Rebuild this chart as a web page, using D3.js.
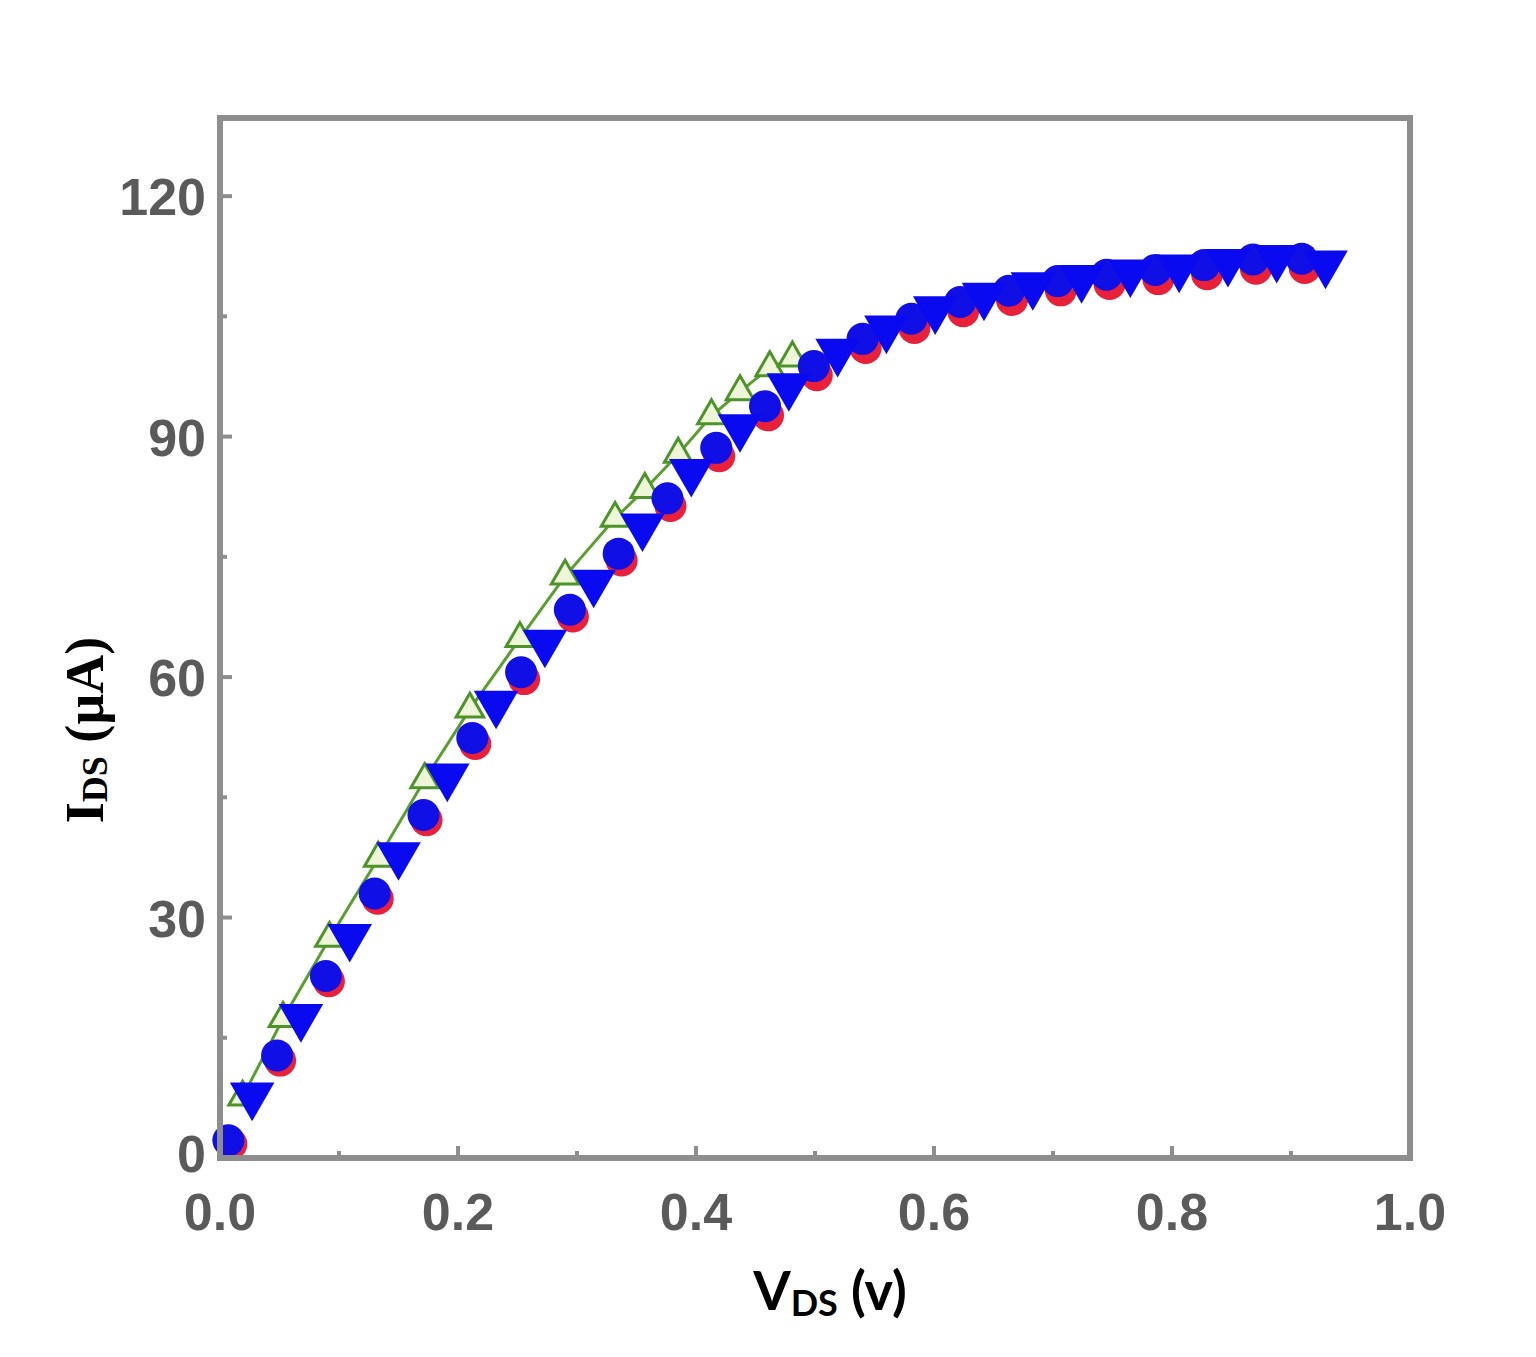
<!DOCTYPE html>
<html><head><meta charset="utf-8">
<script src="https://cdn.jsdelivr.net/npm/d3@7/dist/d3.min.js"></script>
<style>body{margin:0;background:#fff}svg{display:block}</style>
</head><body>
<svg id="c" width="1536" height="1357"></svg>
<script>
// Data
const xTicks = [0.0, 0.2, 0.4, 0.6, 0.8, 1.0];
const xTickLabels = ["0.0", "0.2", "0.4", "0.6", "0.8", "1.0"];
const yTicks = [0, 30, 60, 90, 120];
const yTickLabels = ["0", "30", "60", "90", "120"];

// circle markers (red under blue)
const vCirc = [0.007,0.048,0.089,0.130,0.171,0.212,0.253,0.294,0.335,0.376,0.417,0.458,0.499,0.540,0.581,0.622,0.663,0.704,0.745,0.786,0.827,0.868,0.909];
const iRed  = [2.0,12.4,22.3,32.6,42.4,51.9,60.0,67.8,74.8,81.6,87.8,92.9,97.9,101.3,103.8,105.9,107.3,108.5,109.3,109.9,110.5,111.2,111.3];
const iBlueCirc = [2.2,12.8,22.7,33.0,42.8,52.4,60.6,68.4,75.4,82.3,88.6,93.8,98.8,102.2,104.7,106.8,108.2,109.4,110.2,110.8,111.4,112.1,112.2];
// triangle markers (blue)
const vTri = [0.027,0.068,0.109,0.150,0.191,0.232,0.273,0.314,0.355,0.396,0.437,0.478,0.519,0.560,0.601,0.642,0.683,0.724,0.765,0.806,0.847,0.888,0.929];
const iBlueTri = [7.8,17.6,27.6,37.8,47.6,56.7,64.3,71.8,78.8,85.6,91.2,96.3,100.6,103.5,105.9,107.6,108.9,109.8,110.5,111.1,111.8,112.3,111.6];
// green open triangles
const vGreen = [0.019,0.053,0.092,0.133,0.172,0.210,0.252,0.290,0.332,0.357,0.385,0.413,0.437,0.462,0.481];
const iGreen = [7.6,17.4,27.4,37.4,47.2,56.0,64.8,72.6,79.8,83.4,87.8,92.6,95.6,98.6,99.8];

const svg = d3.select("#c");
const L = 220, R = 1410, T = 118, B = 1158;
const x = d3.scaleLinear().domain([0, 1]).range([L, R]);
const y = d3.scaleLinear().domain([0, 129.75]).range([B, T]);

const frameColor = "#8e8e8e";

const g = svg.append("g");

const greenPts = vGreen.map((v,i)=>[v,iGreen[i]]);
g.append("path").datum(greenPts)
  .attr("d", d3.line().x(d=>x(d[0])).y(d=>y(d[1])))
  .attr("fill","none").attr("stroke","#5a9e30").attr("stroke-width",3);
const triUp = d3.symbol().type(d3.symbolTriangle).size(330);
g.selectAll(".gr").data(greenPts).join("path")
  .attr("transform", d=>`translate(${x(d[0])},${y(d[1])})`)
  .attr("d", triUp).attr("fill","#eef5d8").attr("stroke","#4c9428").attr("stroke-width",3);

g.selectAll(".rc").data(vCirc.map((v,i)=>[v,iRed[i]])).join("circle")
  .attr("cx", d=>x(d[0]) + 3).attr("cy", d=>y(d[1]) + 2).attr("r", 16)
  .attr("fill","#e8203a");
g.selectAll(".bc").data(vCirc.map((v,i)=>[v,iBlueCirc[i]])).join("circle")
  .attr("cx", d=>x(d[0])).attr("cy", d=>y(d[1])).attr("r", 16)
  .attr("fill","#1010e6");
const triDown = d3.symbol().type(d3.symbolTriangle).size(860);
g.selectAll(".bt").data(vTri.map((v,i)=>[v,iBlueTri[i]])).join("path")
  .attr("transform", d=>`translate(${x(d[0])},${y(d[1])}) rotate(180)`)
  .attr("d", triDown).attr("fill","#0a0af0");

// frame
svg.append("rect").attr("x", L).attr("y", T).attr("width", R - L).attr("height", B - T)
  .attr("fill","none").attr("stroke", frameColor).attr("stroke-width", 6);

// ticks (inward)
const xMinor = [0.1, 0.3, 0.5, 0.7, 0.9];
svg.selectAll(".xt").data(xTicks).join("line")
  .attr("x1", d=>x(d)).attr("x2", d=>x(d)).attr("y1", B).attr("y2", B - 12)
  .attr("stroke", frameColor).attr("stroke-width", 4);
svg.selectAll(".xm").data(xMinor).join("line")
  .attr("x1", d=>x(d)).attr("x2", d=>x(d)).attr("y1", B).attr("y2", B - 7)
  .attr("stroke", frameColor).attr("stroke-width", 4);
const yMinor = [15, 45, 75, 105];
svg.selectAll(".yt").data(yTicks).join("line")
  .attr("x1", L).attr("x2", L + 12).attr("y1", d=>y(d)).attr("y2", d=>y(d))
  .attr("stroke", frameColor).attr("stroke-width", 4);
svg.selectAll(".ym").data(yMinor).join("line")
  .attr("x1", L).attr("x2", L + 7).attr("y1", d=>y(d)).attr("y2", d=>y(d))
  .attr("stroke", frameColor).attr("stroke-width", 4);

// tick labels
svg.selectAll(".xl").data(xTicks).join("text")
  .attr("x", d=>x(d)).attr("y", 1230)
  .attr("text-anchor","middle")
  .attr("font-family","'Liberation Sans', Arial, sans-serif").attr("font-weight","bold")
  .attr("font-size", 52).attr("fill","#5a5a5a")
  .text((d,i)=>xTickLabels[i]);
svg.selectAll(".yl").data(yTicks).join("text")
  .attr("x", 206).attr("y", d=>y(d) + (d === 0 ? 14 : 19))
  .attr("text-anchor","end")
  .attr("font-family","'Liberation Sans', Arial, sans-serif").attr("font-weight","bold")
  .attr("font-size", 52).attr("fill","#5a5a5a")
  .text((d,i)=>yTickLabels[i]);

// axis titles
const xt = svg.append("text").attr("x", 830).attr("y", 1310).attr("text-anchor","middle")
  .attr("font-family","Lato, 'Open Sans', sans-serif").attr("font-weight","bold")
  .attr("font-size", 54).attr("fill","#000");
xt.append("tspan").text("V");
xt.append("tspan").attr("font-size", 36).attr("dy", 6).text("DS");
xt.append("tspan").attr("dy", -6).text(" (v)");

const yt = svg.append("text").attr("transform","translate(103,730) rotate(-90)")
  .attr("text-anchor","middle")
  .attr("font-family","'Liberation Serif', 'Times New Roman', serif").attr("font-weight","bold")
  .attr("font-size", 54).attr("fill","#000");
yt.append("tspan").text("I");
yt.append("tspan").attr("font-size", 36).attr("dy", 4).text("DS");
yt.append("tspan").attr("dy", -4).text(" (µA)");
</script>
</body></html>
